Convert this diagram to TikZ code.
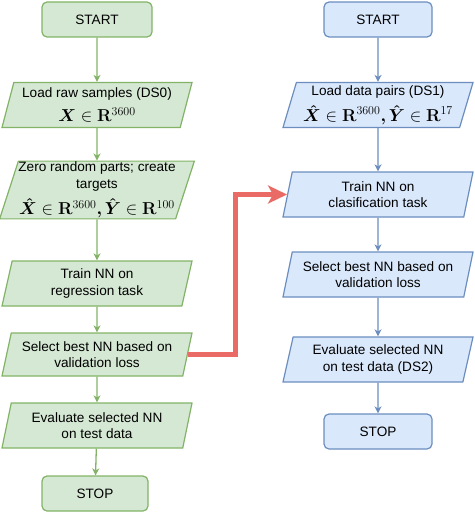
\documentclass[tikz,border=0pt]{standalone}
\usepackage{amsmath,bm}
\usepackage[no-math]{fontspec}
\setmainfont{Liberation Sans}
\usetikzlibrary{shapes.geometric,arrows.meta}
\definecolor{greenfill}{HTML}{D5E8D4}
\definecolor{greenline}{HTML}{82B366}
\definecolor{bluefill}{HTML}{DAE8FC}
\definecolor{blueline}{HTML}{6C8EBF}
\definecolor{redline}{HTML}{EA6B66}
\newcommand{\mathrow}[1]{{\fontsize{17}{19}\selectfont$#1$}}
\begin{document}
\begin{tikzpicture}[x=1pt,y=-1pt,
        every node/.style = {font=\fontsize{13.6}{16.5}\selectfont,
            align=center, line width=1.2pt},
        terminal/.style = {rectangle, rounded corners=5pt, draw,
            minimum width=110pt, minimum height=35pt},
        iobox/.style = {trapezium, trapezium left angle=72,
            trapezium right angle=108, trapezium stretches body, draw,
            minimum width=190pt, minimum height=45pt, inner xsep=0pt,
            inner ysep=1pt},
        greenbox/.style = {fill=greenfill, draw=greenline},
        bluebox/.style = {fill=bluefill, draw=blueline},
        flow/.style = {-{Stealth[length=7pt,width=7pt,inset=2pt]},
            line width=1.3pt},
        jump/.style = {-{Stealth[length=19pt,width=18pt,inset=5pt]},
            line width=5pt, draw=redline}]
    \useasboundingbox (0,0) rectangle (474,513);
    % pretraining column
    \node[terminal, greenbox] (startA) at (97,19.5) {START};
    \node[iobox, greenbox] (loadA) at (97,105)
        {Load raw samples (DS0)\\[6pt] \mathrow{\bm{X} \in \mathbf{R}^{3600}}};
    \node[iobox, greenbox, minimum height=55pt] (zeroA) at (97,190)
        {Zero random parts; create\\ targets\\[6pt]
         \mathrow{\bm{\hat{X}} \in \mathbf{R}^{3600} \bm{,} \bm{\hat{Y}} \in \mathbf{R}^{100}}};
    \node[iobox, greenbox] (trainA) at (97,283.5)
        {Train NN on\\ regression task};
    \node[iobox, greenbox, minimum height=43pt] (selA) at (97,354.5)
        {Select best NN based on\\ validation loss};
    \node[iobox, greenbox] (evalA) at (97,425.5)
        {Evaluate selected NN\\ on test data};
    \node[terminal, greenbox, minimum width=106pt] (stopA) at (95,493.5) {STOP};
    % classification column
    \node[terminal, bluebox, minimum width=108pt] (startB) at (378,19.5) {START};
    \node[iobox, bluebox] (loadB) at (378,105)
        {Load data pairs (DS1)\\[6pt]
         \mathrow{\bm{\hat{X}} \in \mathbf{R}^{3600} \bm{,} \bm{\hat{Y}} \in \mathbf{R}^{17}}};
    \node[iobox, bluebox] (trainB) at (378,194.5)
        {Train NN on\\ clasification task};
    \node[iobox, bluebox] (selB) at (378,274.5)
        {Select best NN based on\\ validation loss};
    \node[iobox, bluebox] (evalB) at (378,359.5)
        {Evaluate selected NN\\ on test data (DS2)};
    \node[terminal, bluebox, minimum width=108pt] (stopB) at (378,431.5) {STOP};
    % connectors
    \foreach \a/\b in {startA/loadA, loadA/zeroA, zeroA/trainA,
            trainA/selA, selA/evalA, evalA/stopA}
        \draw[flow, greenline] (\a) -- (\b);
    \foreach \a/\b in {startB/loadB, loadB/trainB, trainB/selB,
            selB/evalB, evalB/stopB}
        \draw[flow, blueline] (\a) -- (\b);
    \coordinate (bendx) at (235,0);
    \draw[jump] (selA.east) -- (selA.east -| bendx) |- (trainB.west);
\end{tikzpicture}
\end{document}
